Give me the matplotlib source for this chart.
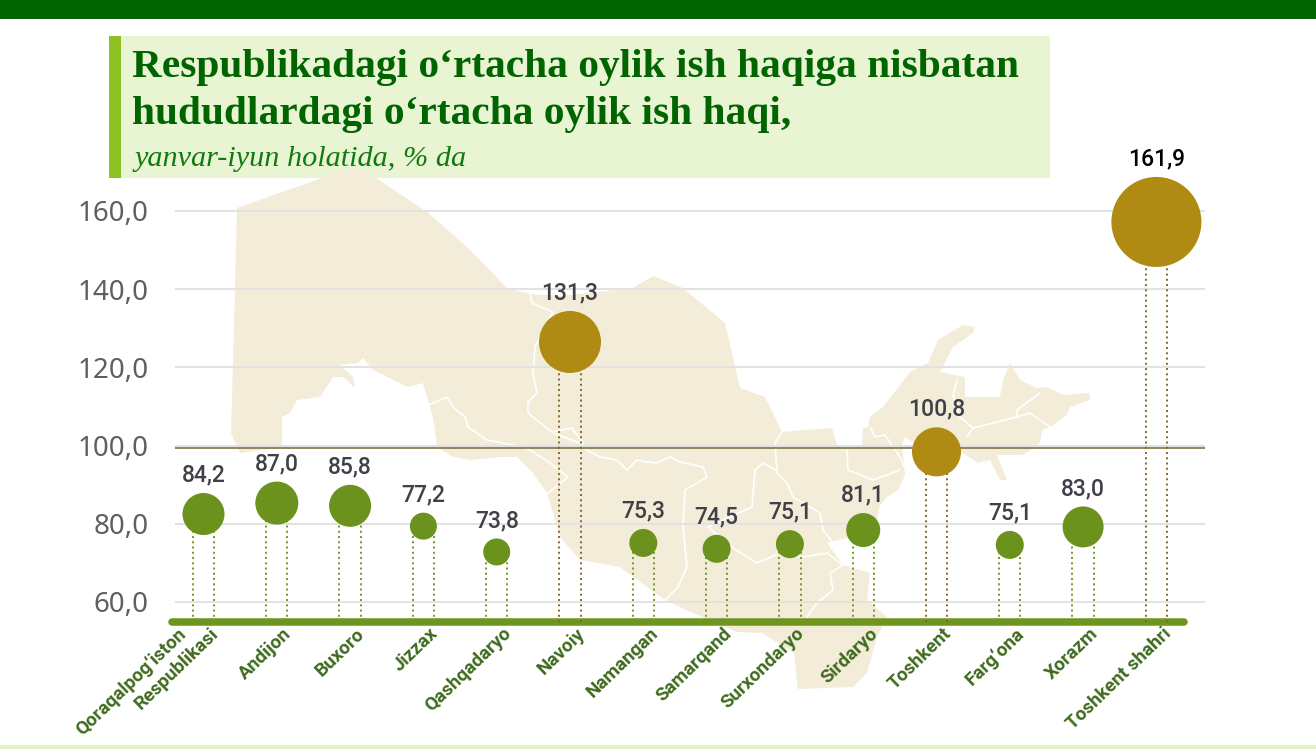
import matplotlib
matplotlib.use("Agg")
from matplotlib import pyplot as plt
from matplotlib.patches import Polygon, Rectangle

# Chart data
regions = ["Qoraqalpog‘iston\nRespublikasi", "Andijon", "Buxoro", "Jizzax", "Qashqadaryo",
           "Navoiy", "Namangan", "Samarqand", "Surxondaryo", "Sirdaryo", "Toshkent",
           "Farg‘ona", "Xorazm", "Toshkent shahri"]
value_labels = ["84,2", "87,0", "85,8", "77,2", "73,8", "131,3", "75,3", "74,5", "75,1",
                "81,1", "100,8", "75,1", "83,0", "161,9"]
# where the bubbles really sit on the y axis (not quite the printed numbers)
bubble_y = [82.5, 85.3, 84.6, 79.4, 72.8, 126.5, 75.1, 73.6, 74.8, 78.4, 98.4, 74.6, 79.2, 157.2]
bubble_d = [42, 43, 42, 27, 27, 62, 28, 28, 28, 34, 49, 28, 41, 90]  # pixels
above_avg = [False, False, False, False, False, True, False, False, False, False, True,
             False, False, True]
y_ticks = [60, 80, 100, 120, 140, 160]
y_tick_labels = ["60,0", "80,0", "100,0", "120,0", "140,0", "160,0"]
reference_y = 99.4

W, H = 1316, 749
DPI = 100
PX = 72 / DPI
GREEN = "#6C921E"
GOLD = "#AF8B14"
STEM_GREEN = "#6F9A20"
STEM_GOLD = "#86672A"

# Background map, traced in picture pixels
map_outline = [
    (237, 208), (353, 167), (367, 172), (427, 212), (467, 247), (507, 288), (530, 294),
    (560, 296), (633, 288), (653, 276), (683, 288), (725, 323), (733, 357), (740, 388),
    (765, 397), (782, 432), (832, 428), (837, 445), (862, 447), (863, 428), (868, 427),
    (870, 417), (883, 407), (910, 372), (928, 363), (938, 340), (963, 325), (975, 327),
    (973, 333), (953, 347), (940, 372), (965, 377), (965, 397), (973, 397), (1000, 397),
    (1003, 380), (1010, 363), (1020, 380), (1037, 388), (1047, 387), (1063, 395),
    (1090, 393), (1090, 400), (1070, 407), (1067, 415), (1050, 427), (1042, 430),
    (1040, 443), (1023, 455), (997, 455), (1007, 480), (1000, 480), (990, 460), (978, 463),
    (963, 453), (940, 445), (915, 444), (905, 437), (902, 445), (905, 475), (898, 490),
    (887, 497), (880, 505), (877, 520), (860, 535), (827, 543), (843, 565), (870, 573),
    (867, 600), (887, 617), (877, 637), (867, 673), (853, 687), (798, 689), (794, 653),
    (762, 633), (737, 632), (686, 610), (665, 600), (620, 567), (580, 560), (560, 537),
    (547, 493), (533, 473), (517, 457), (500, 457), (470, 460), (453, 457), (437, 447),
    (433, 417), (423, 383), (407, 387), (373, 370), (363, 358), (358, 363), (340, 365),
    (353, 377), (355, 388), (343, 377), (333, 377), (320, 397), (297, 400), (290, 413),
    (282, 417), (282, 447), (240, 453), (231, 433), (232, 400),
]
map_borders = [
    [(530, 294), (532, 303), (553, 312), (535, 347), (533, 373), (537, 393), (528, 402),
     (528, 413), (553, 433), (580, 443), (587, 450), (600, 457), (617, 460), (627, 470),
     (637, 460), (647, 462), (657, 463), (670, 457), (680, 462), (703, 467), (707, 477),
     (685, 490), (683, 527), (687, 567), (678, 587), (665, 600)],
    [(428, 405), (447, 397), (453, 407), (465, 417), (468, 427), (487, 440), (513, 445),
     (530, 450), (550, 463), (568, 477), (548, 493)],
    [(552, 432), (572, 428), (583, 443)],
    [(782, 432), (775, 443), (777, 473), (787, 483), (793, 497), (820, 513), (823, 530),
     (833, 543)],
    [(775, 470), (763, 463), (755, 470), (752, 507), (708, 527), (733, 548), (757, 563),
     (780, 553), (803, 557), (827, 553), (843, 565), (830, 573), (833, 590), (817, 603),
     (807, 617)],
    [(847, 450), (848, 470), (873, 480), (900, 470)],
    [(870, 427), (875, 437), (885, 435), (900, 457), (907, 473)],
    [(957, 380), (953, 395), (960, 417), (973, 428), (967, 437)],
    [(973, 428), (1013, 418), (1030, 413), (1050, 427)],
    [(1017, 417), (1017, 410), (1040, 393)],
]

fig = plt.figure(figsize=(W / DPI, H / DPI), dpi=DPI, facecolor="white")

# Layer in picture pixels for header, map and the base line
bg = fig.add_axes([0, 0, 1, 1])
bg.set_xlim(0, W)
bg.set_ylim(H, 0)
bg.axis("off")

bg.add_patch(Rectangle((0, 0), W, 19, color="#006400", lw=0))
bg.add_patch(Rectangle((0, 745), W, 4, color="#E3F2C4", lw=0))
bg.add_patch(Rectangle((109, 36), 941, 142, color="#E9F5D2", lw=0))
bg.add_patch(Rectangle((109, 36), 12, 142, color="#8DC021", lw=0))

bg.add_patch(Polygon(map_outline, closed=True, facecolor="#F3ECD8", edgecolor="none", zorder=2))
for border in map_borders:
    bg.plot([p[0] for p in border], [p[1] for p in border], color="white", lw=1.2,
            solid_joinstyle="round", zorder=3)

bg.text(132, 77, "Respublikadagi o‘rtacha oylik ish haqiga nisbatan", family="Liberation Serif",
        weight="bold", fontsize=29.8, color="#006400", zorder=4)
bg.text(132, 124, "hududlardagi o‘rtacha oylik ish haqi,", family="Liberation Serif",
        weight="bold", fontsize=29.8, color="#006400", zorder=4)
bg.text(135, 166, "yanvar-iyun holatida, % da", family="Liberation Serif", style="italic",
        fontsize=21.8, color="#117A11", zorder=4)

bg.plot([172, 1184], [622, 622], color="#6F951F", lw=5.4, solid_capstyle="round", zorder=5)

# Chart layer: left 175, right 1205, top 170, bottom 622 in pixels
ax = fig.add_axes([175 / W, (H - 622) / H, (1205 - 175) / W, (622 - 170) / H])
ax.patch.set_alpha(0)
px_per_cat = 73.3
ax.set_xlim((175 - 203.5) / px_per_cat, (1205 - 203.5) / px_per_cat)
ax.set_ylim(60 - 20 / 3.91, 60 + 432 / 3.91)
for spine in ax.spines.values():
    spine.set_visible(False)

ax.set_yticks(y_ticks)
ax.set_yticklabels(y_tick_labels, family="Noto Sans", fontsize=20, color="#5F5F5F")
ax.tick_params(axis="y", length=0, pad=19)
ax.grid(axis="y", color="#E2E2E2", lw=1.4)
ax.set_axisbelow(True)
ax.hlines(reference_y, *ax.get_xlim(), color="#8E8660", lw=1.4, zorder=1.5)

positions = list(range(len(regions)))
bottom = ax.get_ylim()[0]
for i in positions:
    stem_color = STEM_GOLD if above_avg[i] else STEM_GREEN
    for off in (-0.145, 0.145):
        ax.plot([i + off, i + off], [bottom, bubble_y[i]], color=stem_color, lw=1.4,
                linestyle=(0, (1, 1.7)), zorder=2)

ax.scatter(positions, bubble_y, s=[(d * PX) ** 2 for d in bubble_d],
           c=[GOLD if a else GREEN for a in above_avg], linewidths=0, zorder=3, clip_on=False)

for i in positions:
    ax.annotate(value_labels[i], (i, bubble_y[i]), xytext=(0, (bubble_d[i] / 2 + 18) * PX),
                textcoords="offset points", ha="center", va="center", family="Roboto",
                weight="medium", fontsize=16.5, color="black" if i == 13 else "#3F4048", zorder=4)

# Slanted region names, the two-line name gets each line placed on its own
ax.set_xticks([])
for i in positions:
    for k, line in enumerate(reversed(regions[i].split("\n"))):
        ax.annotate(line, (i, bottom), xytext=((12 - 32 * k) * PX, -9 * PX),
                    textcoords="offset points", rotation=44, rotation_mode="anchor",
                    ha="right", va="center", family="Roboto", weight="bold", fontsize=13.6,
                    color="#3F6B1E", annotation_clip=False)

fig.savefig("out.png", dpi=DPI)
